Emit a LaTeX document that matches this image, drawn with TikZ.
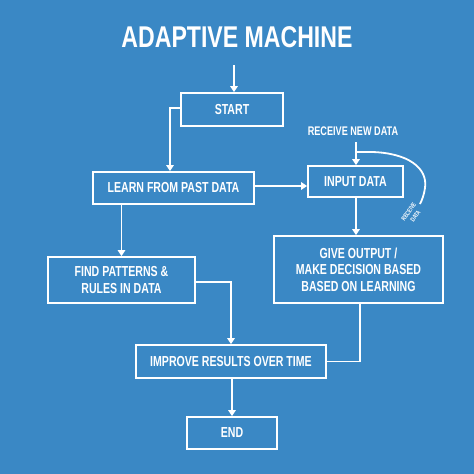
\documentclass[tikz,border=0pt]{standalone}
\usepackage{fontspec}
\setmainfont{Liberation Sans}
\newfontfamily\labfont{Liberation Sans}[FakeStretch=0.73]
\newfontfamily\titlefont{Liberation Sans}[FakeStretch=0.77]
\usetikzlibrary{arrows.meta}
\definecolor{bg}{RGB}{58,136,197}
\tikzset{
  box/.style={draw=white, line width=1.8pt, text=white, align=center,
    inner sep=0pt, font=\labfont\fontsize{14.5}{16.5}\selectfont\bfseries},
  link/.style={draw=white, line width=1.8pt},
  arr/.style={link, -{Triangle[length=6pt,width=7.5pt]}},
}
\begin{document}
\begin{tikzpicture}[x=1pt,y=-1pt]
\fill[bg] (0,0) rectangle (474,474);
\useasboundingbox (0,0) rectangle (474,474);

\node[text=white, font=\titlefont\fontsize{30}{32}\selectfont\bfseries] (title) at (237,37) {ADAPTIVE MACHINE};

\node[box, minimum width=102pt, minimum height=33pt] (start) at (232,109.5) {START};
\node[box, minimum width=161pt, minimum height=32pt] (learn) at (173.5,188) {LEARN FROM PAST DATA};
\node[box, minimum width=95pt, minimum height=31pt] (input) at (355.5,181.5) {INPUT DATA};
\node[box, minimum width=169pt, minimum height=67pt] (give) at (358.5,269.5) {GIVE OUTPUT /\\MAKE DECISION BASED\\BASED ON LEARNING};
\node[box, minimum width=147pt, minimum height=46pt] (find) at (121.5,280) {FIND PATTERNS \&\\RULES IN DATA};
\node[box, minimum width=190pt, minimum height=33pt] (improve) at (231,361.5) {IMPROVE RESULTS OVER TIME};
\node[box, minimum width=90pt, minimum height=32pt] (end) at (232,433) {END};

\node[text=white, inner sep=1pt, font=\labfont\fontsize{12.5}{13}\selectfont\bfseries] (recv) at (353,131) {RECEIVE NEW DATA};
\node[text=white, inner sep=0pt, align=center, rotate=55, font=\labfont\fontsize{6.5}{8}\selectfont\bfseries] (recv2) at (412,214) {RECEIVE\\DATA};

\coordinate (topin) at (234,65);
\coordinate (rin) at (356,142);
\coordinate (cs) at (356,152);
\coordinate (ce) at (420,204);

\draw[arr] (topin) -- (topin |- start.north);
\draw[arr] (start.west |- 0,108) -| (170,0 |- learn.north);
\draw[arr] (learn.east |- 0,186) -- (input.west |- 0,186);
\draw[arr] (learn.south -| find.north) -- (find.north);
\draw[arr] (rin) -- (rin |- input.north);
\draw[link] (cs) -- (372,152) .. controls (408,153) and (428,168) .. (425,188) .. controls (424,195) and (422,200) .. (ce);
\draw[arr] (input.south -| 356,0) -- (give.north -| 356,0);
\draw[link] (give.south -| 360,0) |- (improve.east);
\draw[arr] (find.east |- 0,282) -| (improve.north);
\draw[arr] (improve.south -| 232,0) -- (end.north);
\end{tikzpicture}
\end{document}
